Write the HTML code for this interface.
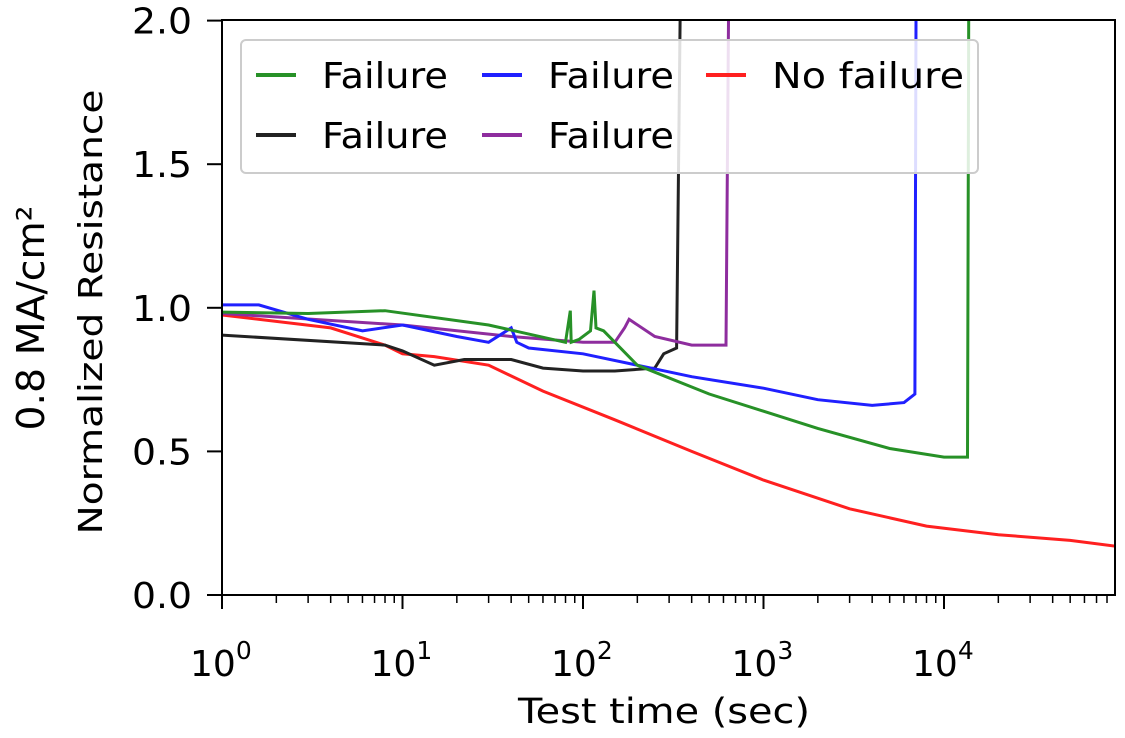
<!DOCTYPE html>
<html><head><meta charset="utf-8"><style>
html,body{margin:0;padding:0;background:#fff;}
svg{display:block;font-family:"DejaVu Sans","Liberation Sans",sans-serif;}
</style></head><body>
<svg id="chart" width="1125" height="738">
<g id="plot" clip-path="url(#clip)"></g>
<defs><clipPath id="clip"><rect x="222" y="20" width="893" height="575"/></clipPath></defs>
<rect x="222" y="20" width="893" height="575" fill="none" stroke="#000" stroke-width="2"/>
<g id="axes"></g>
<text x="44" y="318" font-size="38" text-anchor="middle" textLength="225" lengthAdjust="spacingAndGlyphs" transform="rotate(-90 44 318)">0.8 MA/cm²</text>
<text x="102" y="312" font-size="33" text-anchor="middle" textLength="445" lengthAdjust="spacingAndGlyphs" transform="rotate(-90 102 312)">Normalized Resistance</text>
<text x="664" y="723" font-size="35" text-anchor="middle" textLength="292" lengthAdjust="spacingAndGlyphs">Test time (sec)</text>
<g id="legend">
<rect x="241" y="40" width="737" height="133" rx="5" fill="#fff" fill-opacity="0.85" stroke="#ccc" stroke-width="2"/>
</g>
</svg>
<script>
const NS="http://www.w3.org/2000/svg";
const yTicks=[0,0.5,1.0,1.5,2.0];
const yTickLabels=["0.0","0.5","1.0","1.5","2.0"];
const xTickExps=[0,1,2,3,4];
const greenT=[1,3,8,30,80,85,86,95,110,115,118,130,200,500,1000,2000,5000,10000,13500,13700];
const greenV=[0.985,0.98,0.99,0.94,0.88,0.99,0.88,0.89,0.92,1.06,0.93,0.92,0.80,0.70,0.64,0.58,0.51,0.48,0.48,2.0];
const blueT=[1,1.6,3,6,10,20,30,40,43,50,100,200,400,1000,2000,4000,6000,6900,7000];
const blueV=[1.01,1.01,0.96,0.92,0.94,0.90,0.88,0.93,0.88,0.86,0.84,0.80,0.76,0.72,0.68,0.66,0.67,0.70,2.0];
const blackT=[1,8,10,15,22,40,60,100,150,250,280,330,345];
const blackV=[0.905,0.87,0.85,0.80,0.82,0.82,0.79,0.78,0.78,0.79,0.84,0.86,2.0];
const purpleT=[1,10,40,100,150,170,180,250,400,620,640];
const purpleV=[0.98,0.94,0.90,0.88,0.88,0.93,0.96,0.90,0.87,0.87,2.0];
const redT=[1,4,8,10,15,30,60,150,400,1000,3000,8000,20000,50000,89000];
const redV=[0.975,0.93,0.87,0.84,0.83,0.80,0.71,0.61,0.50,0.40,0.30,0.24,0.21,0.19,0.17];
const X0=222,DEC=180.5,Y0=595,YS=287.2;
const xs=t=>X0+Math.log10(t)*DEC;
const ys=v=>Y0-v*YS;
const plot=document.getElementById('plot'),axes=document.getElementById('axes'),legend=document.getElementById('legend');
function line(T,V,color,name){
  const p=document.createElementNS(NS,'path');
  p.setAttribute('d',T.map((t,i)=>(i?'L':'M')+xs(t).toFixed(1)+','+ys(V[i]).toFixed(1)).join(''));
  p.setAttribute('fill','none');p.setAttribute('stroke',color);p.setAttribute('stroke-width','3');
  
  
  plot.appendChild(p);
}
line(redT,redV,'#ff2020','series-no-failure');
line(blackT,blackV,'#222','series-failure-black');
line(purpleT,purpleV,'#8e2d9e','series-failure-purple');
line(blueT,blueV,'#2020ff','series-failure-blue');
line(greenT,greenV,'#279127','series-failure-green');
yTicks.forEach((v,i)=>{
  const l=document.createElementNS(NS,'line');
  l.setAttribute('x1',207);l.setAttribute('x2',222);l.setAttribute('y1',ys(v));l.setAttribute('y2',ys(v));l.setAttribute('stroke','#000');l.setAttribute('stroke-width','2');
  
  
  axes.appendChild(l);
  const t=document.createElementNS(NS,'text');
  t.setAttribute('x',192);t.setAttribute('y',ys(v)+13);t.setAttribute('font-size','36');t.setAttribute('text-anchor','end');
  t.setAttribute('textLength','60');t.setAttribute('lengthAdjust','spacingAndGlyphs');
  t.textContent=yTickLabels[i];
  
  
  axes.appendChild(t);
});
xTickExps.forEach(e=>{
  const x=X0+e*DEC;
  const l=document.createElementNS(NS,'line');
  l.setAttribute('x1',x);l.setAttribute('x2',x);l.setAttribute('y1',595);l.setAttribute('y2',609);l.setAttribute('stroke','#000');l.setAttribute('stroke-width','2');
  
  
  axes.appendChild(l);
  for(let m=2;m<10;m++){
    const xm=X0+(e+Math.log10(m))*DEC; if(xm>1115) continue;
    const k=document.createElementNS(NS,'line');
    k.setAttribute('x1',xm);k.setAttribute('x2',xm);k.setAttribute('y1',595);k.setAttribute('y2',603);k.setAttribute('stroke','#000');k.setAttribute('stroke-width','1.5');
    
    
    axes.appendChild(k);
  }
  const t=document.createElementNS(NS,'text');
  t.setAttribute('x',x-32);t.setAttribute('y',676);t.setAttribute('font-size','36');
  t.innerHTML='10<tspan dy="-17" font-size="25">'+e+'</tspan>';
  
  
  axes.appendChild(t);
});
const legItems=[[256,75,'#279127','Failure'],[482,75,'#2020ff','Failure'],[706,75,'#ff2020','No failure'],[256,135,'#222','Failure'],[482,135,'#8e2d9e','Failure']];
legItems.forEach(it=>{
  const l=document.createElementNS(NS,'line');
  l.setAttribute('x1',it[0]);l.setAttribute('x2',it[0]+40);l.setAttribute('y1',it[1]);l.setAttribute('y2',it[1]);l.setAttribute('stroke',it[2]);l.setAttribute('stroke-width','4');
  
  
  legend.appendChild(l);
  const t=document.createElementNS(NS,'text');
  t.setAttribute('x',it[0]+66);t.setAttribute('y',it[1]+13);t.setAttribute('font-size','36');
  t.setAttribute('textLength',it[3]==='No failure'?'192':'126');t.setAttribute('lengthAdjust','spacingAndGlyphs');
  t.textContent=it[3];
  
  
  legend.appendChild(t);
});
</script>
</body></html>
